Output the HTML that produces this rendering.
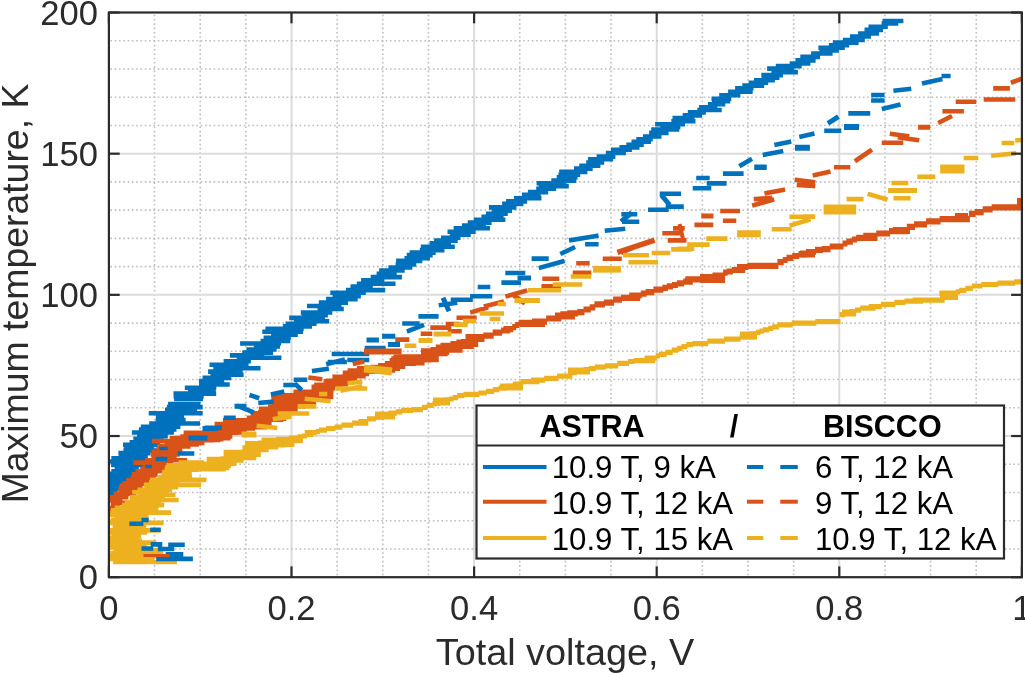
<!DOCTYPE html>
<html><head><meta charset="utf-8"><title>chart</title>
<style>html,body{margin:0;padding:0;background:#fff;width:1025px;height:673px;overflow:hidden;}svg{display:block;will-change:transform;}</style>
</head><body>
<svg width="1025" height="673" viewBox="0 0 1025 673"><line x1="154.55" y1="12.50" x2="154.55" y2="577.20" stroke="#bdbdbd" stroke-width="1.6" stroke-dasharray="1.6 2.7" stroke-dashoffset="-2.2"/>
<line x1="200.20" y1="12.50" x2="200.20" y2="577.20" stroke="#bdbdbd" stroke-width="1.6" stroke-dasharray="1.6 2.7" stroke-dashoffset="-2.2"/>
<line x1="245.85" y1="12.50" x2="245.85" y2="577.20" stroke="#bdbdbd" stroke-width="1.6" stroke-dasharray="1.6 2.7" stroke-dashoffset="-2.2"/>
<line x1="291.50" y1="12.50" x2="291.50" y2="577.20" stroke="#dcdcdc" stroke-width="2"/>
<line x1="337.15" y1="12.50" x2="337.15" y2="577.20" stroke="#bdbdbd" stroke-width="1.6" stroke-dasharray="1.6 2.7" stroke-dashoffset="-2.2"/>
<line x1="382.80" y1="12.50" x2="382.80" y2="577.20" stroke="#bdbdbd" stroke-width="1.6" stroke-dasharray="1.6 2.7" stroke-dashoffset="-2.2"/>
<line x1="428.45" y1="12.50" x2="428.45" y2="577.20" stroke="#bdbdbd" stroke-width="1.6" stroke-dasharray="1.6 2.7" stroke-dashoffset="-2.2"/>
<line x1="474.10" y1="12.50" x2="474.10" y2="577.20" stroke="#dcdcdc" stroke-width="2"/>
<line x1="519.75" y1="12.50" x2="519.75" y2="577.20" stroke="#bdbdbd" stroke-width="1.6" stroke-dasharray="1.6 2.7" stroke-dashoffset="-2.2"/>
<line x1="565.40" y1="12.50" x2="565.40" y2="577.20" stroke="#bdbdbd" stroke-width="1.6" stroke-dasharray="1.6 2.7" stroke-dashoffset="-2.2"/>
<line x1="611.05" y1="12.50" x2="611.05" y2="577.20" stroke="#bdbdbd" stroke-width="1.6" stroke-dasharray="1.6 2.7" stroke-dashoffset="-2.2"/>
<line x1="656.70" y1="12.50" x2="656.70" y2="577.20" stroke="#dcdcdc" stroke-width="2"/>
<line x1="702.35" y1="12.50" x2="702.35" y2="577.20" stroke="#bdbdbd" stroke-width="1.6" stroke-dasharray="1.6 2.7" stroke-dashoffset="-2.2"/>
<line x1="748.00" y1="12.50" x2="748.00" y2="577.20" stroke="#bdbdbd" stroke-width="1.6" stroke-dasharray="1.6 2.7" stroke-dashoffset="-2.2"/>
<line x1="793.65" y1="12.50" x2="793.65" y2="577.20" stroke="#bdbdbd" stroke-width="1.6" stroke-dasharray="1.6 2.7" stroke-dashoffset="-2.2"/>
<line x1="839.30" y1="12.50" x2="839.30" y2="577.20" stroke="#dcdcdc" stroke-width="2"/>
<line x1="884.95" y1="12.50" x2="884.95" y2="577.20" stroke="#bdbdbd" stroke-width="1.6" stroke-dasharray="1.6 2.7" stroke-dashoffset="-2.2"/>
<line x1="930.60" y1="12.50" x2="930.60" y2="577.20" stroke="#bdbdbd" stroke-width="1.6" stroke-dasharray="1.6 2.7" stroke-dashoffset="-2.2"/>
<line x1="976.25" y1="12.50" x2="976.25" y2="577.20" stroke="#bdbdbd" stroke-width="1.6" stroke-dasharray="1.6 2.7" stroke-dashoffset="-2.2"/>
<line x1="108.90" y1="548.97" x2="1021.90" y2="548.97" stroke="#bdbdbd" stroke-width="1.6" stroke-dasharray="1.6 2.7" stroke-dashoffset="-1.5"/>
<line x1="108.90" y1="520.73" x2="1021.90" y2="520.73" stroke="#bdbdbd" stroke-width="1.6" stroke-dasharray="1.6 2.7" stroke-dashoffset="-1.5"/>
<line x1="108.90" y1="492.50" x2="1021.90" y2="492.50" stroke="#bdbdbd" stroke-width="1.6" stroke-dasharray="1.6 2.7" stroke-dashoffset="-1.5"/>
<line x1="108.90" y1="464.26" x2="1021.90" y2="464.26" stroke="#bdbdbd" stroke-width="1.6" stroke-dasharray="1.6 2.7" stroke-dashoffset="-1.5"/>
<line x1="108.90" y1="436.03" x2="1021.90" y2="436.03" stroke="#dcdcdc" stroke-width="2"/>
<line x1="108.90" y1="407.79" x2="1021.90" y2="407.79" stroke="#bdbdbd" stroke-width="1.6" stroke-dasharray="1.6 2.7" stroke-dashoffset="-1.5"/>
<line x1="108.90" y1="379.56" x2="1021.90" y2="379.56" stroke="#bdbdbd" stroke-width="1.6" stroke-dasharray="1.6 2.7" stroke-dashoffset="-1.5"/>
<line x1="108.90" y1="351.32" x2="1021.90" y2="351.32" stroke="#bdbdbd" stroke-width="1.6" stroke-dasharray="1.6 2.7" stroke-dashoffset="-1.5"/>
<line x1="108.90" y1="323.09" x2="1021.90" y2="323.09" stroke="#bdbdbd" stroke-width="1.6" stroke-dasharray="1.6 2.7" stroke-dashoffset="-1.5"/>
<line x1="108.90" y1="294.85" x2="1021.90" y2="294.85" stroke="#dcdcdc" stroke-width="2"/>
<line x1="108.90" y1="266.62" x2="1021.90" y2="266.62" stroke="#bdbdbd" stroke-width="1.6" stroke-dasharray="1.6 2.7" stroke-dashoffset="-1.5"/>
<line x1="108.90" y1="238.38" x2="1021.90" y2="238.38" stroke="#bdbdbd" stroke-width="1.6" stroke-dasharray="1.6 2.7" stroke-dashoffset="-1.5"/>
<line x1="108.90" y1="210.15" x2="1021.90" y2="210.15" stroke="#bdbdbd" stroke-width="1.6" stroke-dasharray="1.6 2.7" stroke-dashoffset="-1.5"/>
<line x1="108.90" y1="181.91" x2="1021.90" y2="181.91" stroke="#bdbdbd" stroke-width="1.6" stroke-dasharray="1.6 2.7" stroke-dashoffset="-1.5"/>
<line x1="108.90" y1="153.68" x2="1021.90" y2="153.68" stroke="#dcdcdc" stroke-width="2"/>
<line x1="108.90" y1="125.44" x2="1021.90" y2="125.44" stroke="#bdbdbd" stroke-width="1.6" stroke-dasharray="1.6 2.7" stroke-dashoffset="-1.5"/>
<line x1="108.90" y1="97.20" x2="1021.90" y2="97.20" stroke="#bdbdbd" stroke-width="1.6" stroke-dasharray="1.6 2.7" stroke-dashoffset="-1.5"/>
<line x1="108.90" y1="68.97" x2="1021.90" y2="68.97" stroke="#bdbdbd" stroke-width="1.6" stroke-dasharray="1.6 2.7" stroke-dashoffset="-1.5"/>
<line x1="108.90" y1="40.74" x2="1021.90" y2="40.74" stroke="#bdbdbd" stroke-width="1.6" stroke-dasharray="1.6 2.7" stroke-dashoffset="-1.5"/>
<defs><clipPath id="ax"><rect x="110" y="13" width="911" height="562.5"/></clipPath></defs><g clip-path="url(#ax)">
<path fill="#0072BD" d="M174.1 396.7h28.9v4.6h-28.9zM173.6 394.2h30.1v4.6h-30.1zM173.5 391.3h42.7v4.6h-42.7zM187.9 388.2h27.8v4.6h-27.8zM184.8 385.5h31.5v4.6h-31.5zM199.0 382.2h30.7v4.6h-30.7zM198.9 378.8h25.4v4.6h-25.4zM202.5 375.6h28.8v4.6h-28.8zM210.4 372.5h33.2v4.6h-33.2zM208.1 369.3h34.6v4.6h-34.6zM213.3 366.0h47.2v4.6h-47.2zM209.5 362.5h39.1v4.6h-39.1zM223.6 359.0h27.3v4.6h-27.3zM236.8 355.5h44.6v4.6h-44.6zM229.9 353.1h34.6v4.6h-34.6zM242.2 350.3h30.9v4.6h-30.9zM246.4 347.2h30.2v4.6h-30.2zM253.8 344.2h26.2v4.6h-26.2zM240.1 341.2h41.0v4.6h-41.0zM260.5 338.7h29.7v4.6h-29.7zM263.6 335.4h27.2v4.6h-27.2zM271.1 332.5h26.7v4.6h-26.7zM262.3 329.4h40.8v4.6h-40.8zM265.4 326.6h38.3v4.6h-38.3zM282.9 324.1h29.1v4.6h-29.1zM285.5 321.5h31.1v4.6h-31.1zM293.9 318.9h35.3v4.6h-35.3zM289.2 315.6h35.9v4.6h-35.9zM301.7 312.8h26.2v4.6h-26.2zM300.8 310.2h31.5v4.6h-31.5zM317.5 306.7h26.3v4.6h-26.3zM307.0 303.7h34.5v4.6h-34.5zM318.8 300.3h29.2v4.6h-29.2zM326.1 296.8h31.6v4.6h-31.6zM332.6 293.8h28.3v4.6h-28.3zM330.3 290.4h35.5v4.6h-35.5zM345.9 287.8h39.3v4.6h-39.3zM350.5 284.3h22.3v4.6h-22.3zM356.8 281.4h38.7v4.6h-38.7zM361.1 277.9h23.3v4.6h-23.3zM370.7 274.8h31.2v4.6h-31.2zM376.6 271.5h20.1v4.6h-20.1zM379.1 268.2h25.6v4.6h-25.6zM388.4 265.2h23.9v4.6h-23.9zM395.6 262.1h20.7v4.6h-20.7zM396.1 258.6h26.2v4.6h-26.2zM404.5 256.0h25.4v4.6h-25.4zM406.7 252.8h26.0v4.6h-26.0zM409.6 250.3h26.1v4.6h-26.1zM419.8 247.8h24.7v4.6h-24.7zM420.8 244.4h34.0v4.6h-34.0zM429.5 240.9h21.5v4.6h-21.5zM434.1 238.3h23.6v4.6h-23.6zM441.0 235.4h19.5v4.6h-19.5zM449.8 232.5h20.9v4.6h-20.9zM447.5 229.5h28.2v4.6h-28.2zM453.6 226.0h36.4v4.6h-36.4zM461.9 223.2h24.0v4.6h-24.0zM467.7 220.3h23.9v4.6h-23.9zM473.9 217.4h31.5v4.6h-31.5zM481.4 214.5h22.2v4.6h-22.2zM485.9 211.5h21.9v4.6h-21.9zM491.6 208.5h20.5v4.6h-20.5zM488.9 205.1h27.6v4.6h-27.6zM502.1 201.6h21.3v4.6h-21.3zM506.1 199.1h21.0v4.6h-21.0zM513.9 195.9h27.6v4.6h-27.6zM521.9 192.4h18.9v4.6h-18.9zM527.9 189.8h20.3v4.6h-20.3zM536.2 186.5h20.0v4.6h-20.0zM538.7 183.8h30.1v4.6h-30.1zM536.6 181.0h29.7v4.6h-29.7zM551.3 178.3h25.0v4.6h-25.0zM556.7 175.1h20.8v4.6h-20.8zM558.4 172.5h21.8v4.6h-21.8zM559.2 169.6h28.2v4.6h-28.2zM574.0 166.3h18.7v4.6h-18.7zM579.2 163.5h21.2v4.6h-21.2zM586.2 160.2h18.0v4.6h-18.0zM588.0 156.9h25.2v4.6h-25.2zM596.6 154.3h18.8v4.6h-18.8zM605.8 150.7h20.1v4.6h-20.1zM611.0 147.5h20.9v4.6h-20.9zM619.4 145.1h20.1v4.6h-20.1zM626.3 142.5h17.5v4.6h-17.5zM631.5 139.4h19.5v4.6h-19.5zM636.3 136.9h16.5v4.6h-16.5zM642.9 134.2h18.6v4.6h-18.6zM649.1 130.6h19.5v4.6h-19.5zM651.2 127.2h28.1v4.6h-28.1zM660.3 124.6h20.1v4.6h-20.1zM655.1 121.9h29.9v4.6h-29.9zM671.3 119.0h24.2v4.6h-24.2zM672.5 115.7h22.0v4.6h-22.0zM682.7 113.1h19.4v4.6h-19.4zM687.8 110.1h18.1v4.6h-18.1zM697.3 107.7h24.4v4.6h-24.4zM699.1 104.9h18.3v4.6h-18.3zM707.9 101.9h17.4v4.6h-17.4zM711.9 98.8h18.4v4.6h-18.4zM711.5 96.4h19.8v4.6h-19.8zM719.2 92.9h21.2v4.6h-21.2zM728.1 89.4h24.6v4.6h-24.6zM735.1 85.9h18.4v4.6h-18.4zM742.3 83.3h21.9v4.6h-21.9zM748.6 80.5h19.6v4.6h-19.6zM754.0 77.9h20.9v4.6h-20.9zM761.8 75.3h17.6v4.6h-17.6zM761.3 72.8h21.7v4.6h-21.7zM771.4 69.8h26.5v4.6h-26.5zM767.1 66.3h27.0v4.6h-27.0zM775.8 63.8h25.9v4.6h-25.9zM789.7 61.2h20.7v4.6h-20.7zM795.4 58.1h20.2v4.6h-20.2zM800.3 54.6h19.8v4.6h-19.8zM811.1 51.2h21.5v4.6h-21.5zM819.4 48.1h19.5v4.6h-19.5zM818.4 45.4h26.4v4.6h-26.4zM828.9 42.9h20.3v4.6h-20.3zM832.8 40.3h25.8v4.6h-25.8zM842.8 37.7h22.0v4.6h-22.0zM850.0 34.2h20.9v4.6h-20.9zM858.1 31.2h21.0v4.6h-21.0zM864.5 27.6h18.5v4.6h-18.5zM868.5 24.5h19.3v4.6h-19.3zM881.6 21.2h16.7v4.6h-16.7zM882.5 18.7h20.9v4.6h-20.9z"/>
<path fill="#0072BD" d="M109.0 495.7h5.1v4.6h-5.1zM109.0 492.2h6.3v4.6h-6.3zM109.0 489.6h8.6v4.6h-8.6zM109.0 486.2h10.9v4.6h-10.9zM109.0 482.8h19.0v4.6h-19.0zM109.0 480.3h18.4v4.6h-18.4zM109.0 477.2h21.6v4.6h-21.6zM109.0 474.3h32.4v4.6h-32.4zM109.1 471.5h33.3v4.6h-33.3zM111.3 468.9h25.8v4.6h-25.8zM114.6 465.8h24.2v4.6h-24.2zM111.1 462.7h39.1v4.6h-39.1zM109.0 459.2h40.9v4.6h-40.9zM111.3 455.9h36.1v4.6h-36.1zM118.9 453.2h29.0v4.6h-29.0zM118.4 450.8h32.0v4.6h-32.0zM123.4 448.3h36.6v4.6h-36.6zM124.2 445.1h29.7v4.6h-29.7zM123.0 442.6h34.8v4.6h-34.8zM129.6 439.9h30.3v4.6h-30.3zM133.3 436.5h30.4v4.6h-30.4zM137.1 433.8h30.7v4.6h-30.7zM131.9 430.2h42.0v4.6h-42.0zM138.9 427.2h37.6v4.6h-37.6zM140.8 424.4h39.6v4.6h-39.6zM149.2 421.2h50.8v4.6h-50.8zM155.6 417.7h30.0v4.6h-30.0zM155.9 414.5h28.2v4.6h-28.2zM148.7 410.9h54.0v4.6h-54.0zM165.0 407.6h32.1v4.6h-32.1zM166.8 404.8h35.9v4.6h-35.9zM168.1 401.7h32.4v4.6h-32.4z"/>
<path fill="#D95319" d="M109.0 508.7h4.2v4.6h-4.2zM109.6 505.4h6.4v4.6h-6.4zM111.0 503.1h9.3v4.6h-9.3zM110.7 500.5h16.5v4.6h-16.5zM109.0 498.1h13.4v4.6h-13.4zM109.1 494.9h19.3v4.6h-19.3zM113.8 491.6h22.5v4.6h-22.5zM118.6 489.2h30.1v4.6h-30.1zM118.5 486.6h22.9v4.6h-22.9zM119.3 483.5h23.4v4.6h-23.4zM122.4 481.3h29.1v4.6h-29.1zM126.2 478.0h29.4v4.6h-29.4zM130.7 475.3h25.0v4.6h-25.0zM131.9 472.1h25.8v4.6h-25.8zM135.5 468.9h28.6v4.6h-28.6zM140.2 466.4h30.4v4.6h-30.4zM142.9 463.1h24.6v4.6h-24.6zM133.6 460.3h39.6v4.6h-39.6zM145.2 457.9h42.0v4.6h-42.0zM151.4 455.5h25.2v4.6h-25.2zM150.6 452.2h29.1v4.6h-29.1zM151.4 449.5h31.0v4.6h-31.0zM156.5 446.7h25.5v4.6h-25.5zM158.1 444.1h32.4v4.6h-32.4zM164.6 441.4h28.0v4.6h-28.0zM151.9 438.8h46.3v4.6h-46.3zM169.7 435.9h31.7v4.6h-31.7z"/>
<path fill="#D95319" d="M175.1 435.8h23.8v11.0h-23.8zM180.2 434.3h24.3v11.0h-24.3zM184.5 431.0h25.7v11.0h-25.7zM192.5 431.5h21.4v11.0h-21.4zM194.4 431.2h26.0v11.0h-26.0zM183.6 430.6h37.5v11.0h-37.5zM203.1 430.5h20.4v11.0h-20.4zM206.1 429.6h24.5v11.0h-24.5zM211.4 427.7h20.9v11.0h-20.9zM218.5 424.0h19.5v11.0h-19.5zM214.6 421.7h30.4v11.0h-30.4zM227.2 423.7h19.5v11.0h-19.5zM229.8 419.8h25.3v11.0h-25.3zM222.9 417.9h39.9v11.0h-39.9zM242.3 418.4h25.0v11.0h-25.0zM246.8 415.5h24.8v11.0h-24.8zM250.6 411.1h32.7v11.0h-32.7zM258.1 410.0h28.1v11.0h-28.1zM258.8 406.4h22.5v11.0h-22.5zM268.1 404.3h21.1v11.0h-21.1zM271.8 401.7h23.9v11.0h-23.9zM274.3 402.0h23.4v11.0h-23.4zM280.9 397.6h24.7v11.0h-24.7zM285.4 394.0h27.0v11.0h-27.0zM271.3 393.0h44.8v11.0h-44.8zM294.8 390.9h26.3v11.0h-26.3z"/>
<path fill="#D95319" d="M300.3 391.0h33.1v8.0h-33.1zM293.4 389.5h31.4v8.0h-31.4zM311.5 384.5h22.1v8.0h-22.1zM314.2 382.5h21.1v8.0h-21.1zM323.5 379.1h19.0v8.0h-19.0zM325.9 378.6h22.0v8.0h-22.0zM332.4 374.5h22.4v8.0h-22.4zM336.5 374.4h20.6v8.0h-20.6zM342.7 370.6h23.0v8.0h-23.0zM347.6 368.3h21.6v8.0h-21.6zM356.8 365.9h18.7v8.0h-18.7zM361.9 366.1h22.7v8.0h-22.7zM370.3 364.7h24.9v8.0h-24.9zM378.1 363.1h21.9v8.0h-21.9zM384.8 361.0h20.5v8.0h-20.5zM389.6 358.1h26.3v8.0h-26.3zM391.3 356.3h20.8v8.0h-20.8zM397.8 357.4h26.8v8.0h-26.8zM393.5 354.4h37.6v8.0h-37.6zM398.4 354.2h32.1v8.0h-32.1zM415.4 354.2h23.4v8.0h-23.4zM421.0 348.3h26.6v8.0h-26.6zM430.5 347.1h18.7v8.0h-18.7zM435.8 344.4h18.3v8.0h-18.3zM440.5 342.7h17.5v8.0h-17.5zM442.5 344.8h20.1v8.0h-20.1zM450.4 341.0h23.4v8.0h-23.4zM456.4 339.4h17.2v8.0h-17.2zM461.2 338.9h17.0v8.0h-17.0zM465.5 333.9h18.8v8.0h-18.8z"/>
<path fill="#D95319" d="M474.5 335.6h9.8v6.2h-9.8zM483.3 332.6h10.4v6.2h-10.4zM492.7 329.5h9.4v6.2h-9.4zM501.1 327.4h9.1v6.2h-9.1zM503.5 326.1h9.7v6.2h-9.7zM512.2 324.0h4.1v6.2h-4.1zM515.2 321.9h4.4v6.2h-4.4zM518.6 319.7h14.4v6.2h-14.4zM532.0 318.5h15.1v6.2h-15.1zM546.1 315.4h15.2v6.2h-15.2zM560.3 311.3h8.1v6.2h-8.1zM567.3 310.3h10.9v6.2h-10.9zM577.2 309.0h7.3v6.2h-7.3zM583.5 306.4h7.3v6.2h-7.3zM589.7 304.3h5.6v6.2h-5.6zM594.4 301.3h10.5v6.2h-10.5zM603.8 299.6h10.2v6.2h-10.2zM613.1 296.6h8.9v6.2h-8.9zM621.0 294.8h19.1v6.2h-19.1zM629.2 292.4h12.5v6.2h-12.5zM640.8 290.6h5.8v6.2h-5.8zM645.6 289.0h8.7v6.2h-8.7zM653.4 286.5h10.0v6.2h-10.0zM662.4 284.7h5.5v6.2h-5.5zM666.9 283.2h6.1v6.2h-6.1zM672.0 281.9h5.9v6.2h-5.9zM676.9 280.2h7.2v6.2h-7.2zM683.2 278.6h9.6v6.2h-9.6zM685.3 276.3h17.5v6.2h-17.5zM701.8 274.2h11.7v6.2h-11.7zM712.5 272.5h11.5v6.2h-11.5zM723.1 269.5h4.6v6.2h-4.6zM726.7 268.4h6.2v6.2h-6.2zM731.8 266.9h13.4v6.2h-13.4zM736.9 263.9h11.3v6.2h-11.3zM747.2 262.8h31.2v6.2h-31.2zM777.4 259.0h6.4v6.2h-6.4zM782.8 256.9h4.8v6.2h-4.8zM786.5 254.8h6.7v6.2h-6.7zM792.2 252.9h7.2v6.2h-7.2zM798.5 251.1h8.6v6.2h-8.6zM806.0 248.9h9.9v6.2h-9.9zM815.0 246.8h8.0v6.2h-8.0zM821.9 246.0h8.7v6.2h-8.7zM829.7 243.4h13.8v6.2h-13.8zM842.5 240.4h5.0v6.2h-5.0zM846.4 238.5h6.5v6.2h-6.5zM851.9 236.4h5.3v6.2h-5.3zM856.2 234.8h21.3v6.2h-21.3zM863.3 232.7h13.9v6.2h-13.9zM876.2 230.4h13.8v6.2h-13.8zM889.0 228.0h18.7v6.2h-18.7zM906.8 223.8h8.2v6.2h-8.2zM914.0 221.3h13.1v6.2h-13.1zM926.1 218.3h14.5v6.2h-14.5zM939.6 216.1h30.3v6.2h-30.3zM968.9 210.8h6.7v6.2h-6.7zM974.6 209.1h9.1v6.2h-9.1zM982.7 206.2h9.9v6.2h-9.9zM991.6 204.3h29.9v6.2h-29.9z"/>
<path fill="#EDB120" d="M113.2 559.7h63.8v4.6h-63.8zM109.7 556.7h44.7v4.6h-44.7zM109.9 553.9h60.4v4.6h-60.4zM110.2 550.8h53.0v4.6h-53.0zM113.4 548.1h44.2v4.6h-44.2zM109.0 545.1h37.9v4.6h-37.9zM110.7 542.5h33.9v4.6h-33.9zM109.5 540.3h46.8v4.6h-46.8zM110.5 538.2h31.4v4.6h-31.4zM110.0 535.5h28.4v4.6h-28.4zM111.3 533.4h29.8v4.6h-29.8zM109.1 530.2h38.1v4.6h-38.1zM110.1 528.1h50.6v4.6h-50.6zM112.6 525.1h33.4v4.6h-33.4zM114.2 523.0h32.1v4.6h-32.1zM109.5 520.6h54.2v4.6h-54.2zM110.4 517.7h32.0v4.6h-32.0zM114.6 515.4h33.9v4.6h-33.9zM109.0 512.6h39.5v4.6h-39.5zM110.2 510.3h61.0v4.6h-61.0zM110.9 507.9h45.6v4.6h-45.6zM114.7 505.6h43.7v4.6h-43.7zM122.0 502.8h42.2v4.6h-42.2zM124.8 499.9h36.1v4.6h-36.1zM129.7 497.7h49.0v4.6h-49.0zM129.9 495.1h35.2v4.6h-35.2zM137.5 492.5h38.0v4.6h-38.0zM132.2 489.9h36.7v4.6h-36.7zM137.4 487.5h34.7v4.6h-34.7zM145.3 484.9h32.9v4.6h-32.9zM143.8 482.6h57.2v4.6h-57.2zM149.0 479.8h30.5v4.6h-30.5zM150.0 477.6h56.5v4.6h-56.5zM158.1 475.1h33.9v4.6h-33.9zM161.5 472.0h30.3v4.6h-30.3zM162.1 469.8h28.7v4.6h-28.7zM164.5 467.3h34.1v4.6h-34.1zM165.3 465.0h32.1v4.6h-32.1zM166.5 462.9h32.2v4.6h-32.2zM178.5 460.2h25.5v4.6h-25.5z"/>
<path fill="#EDB120" d="M186.9 465.1h38.8v6.5h-38.8zM192.0 461.7h39.1v6.5h-39.1zM195.2 463.8h34.1v6.5h-34.1zM203.0 461.4h22.8v6.5h-22.8zM209.8 459.4h26.7v6.5h-26.7zM213.1 459.3h21.9v6.5h-21.9zM206.7 456.7h28.9v6.5h-28.9zM220.2 456.2h23.4v6.5h-23.4zM225.5 453.8h30.8v6.5h-30.8zM226.7 453.6h24.0v6.5h-24.0zM223.6 449.8h29.4v6.5h-29.4zM237.2 450.4h23.6v6.5h-23.6zM242.4 445.2h22.1v6.5h-22.1zM246.7 445.8h21.9v6.5h-21.9zM252.5 443.0h25.8v6.5h-25.8zM258.0 440.4h22.0v6.5h-22.0zM244.9 441.0h40.2v6.5h-40.2zM261.5 437.4h28.7v6.5h-28.7zM272.4 440.4h22.0v6.5h-22.0zM276.2 436.8h26.7v6.5h-26.7z"/>
<path fill="#EDB120" d="M270.9 440.4h7.5v5.2h-7.5zM277.4 438.8h7.6v5.2h-7.6zM284.0 437.4h6.0v5.2h-6.0zM289.0 435.4h9.5v5.2h-9.5zM297.5 434.3h5.4v5.2h-5.4zM301.9 433.4h5.1v5.2h-5.1zM306.0 431.7h7.4v5.2h-7.4zM304.8 430.1h11.8v5.2h-11.8zM315.6 429.1h4.3v5.2h-4.3zM318.9 427.5h8.1v5.2h-8.1zM326.0 425.9h9.5v5.2h-9.5zM334.5 424.6h7.9v5.2h-7.9zM341.4 422.6h11.8v5.2h-11.8zM352.1 420.6h16.3v5.2h-16.3zM358.5 418.9h9.5v5.2h-9.5zM367.0 416.3h8.9v5.2h-8.9zM374.9 414.5h9.3v5.2h-9.3zM383.2 412.2h6.4v5.2h-6.4zM388.6 410.6h8.3v5.2h-8.3zM395.9 409.3h6.4v5.2h-6.4zM401.2 407.8h11.8v5.2h-11.8zM412.0 407.1h11.0v5.2h-11.0zM421.9 404.8h5.9v5.2h-5.9zM426.8 402.7h6.6v5.2h-6.6zM432.4 401.3h4.1v5.2h-4.1zM435.6 400.5h4.8v5.2h-4.8zM439.3 399.1h5.6v5.2h-5.6zM443.9 397.6h6.1v5.2h-6.1zM449.0 396.4h4.7v5.2h-4.7zM452.7 395.0h5.4v5.2h-5.4zM457.2 393.0h7.2v5.2h-7.2zM463.3 391.8h16.0v5.2h-16.0zM478.3 390.4h8.6v5.2h-8.6zM485.9 388.8h8.2v5.2h-8.2zM493.1 387.0h6.3v5.2h-6.3zM498.4 385.4h8.6v5.2h-8.6zM506.0 383.8h7.7v5.2h-7.7zM512.8 381.6h8.8v5.2h-8.8zM520.5 379.1h19.0v5.2h-19.0zM531.0 377.5h14.2v5.2h-14.2zM544.1 375.7h14.0v5.2h-14.0zM557.1 373.6h15.3v5.2h-15.3zM571.4 370.1h5.5v5.2h-5.5zM575.9 368.8h8.6v5.2h-8.6zM583.5 367.1h6.5v5.2h-6.5zM589.0 366.0h6.8v5.2h-6.8zM594.8 364.6h10.9v5.2h-10.9zM604.7 363.2h13.5v5.2h-13.5zM617.2 360.8h11.9v5.2h-11.9zM628.0 358.9h6.6v5.2h-6.6zM633.6 358.1h21.6v5.2h-21.6zM644.6 355.5h12.2v5.2h-12.2zM655.8 353.3h4.1v5.2h-4.1zM658.9 351.8h7.6v5.2h-7.6zM665.5 349.7h7.2v5.2h-7.2zM671.7 347.6h6.4v5.2h-6.4zM677.1 345.8h5.3v5.2h-5.3zM681.5 344.0h6.0v5.2h-6.0zM686.4 342.0h6.9v5.2h-6.9zM692.3 341.0h16.0v5.2h-16.0zM707.3 338.6h17.7v5.2h-17.7zM724.0 336.5h16.6v5.2h-16.6zM739.6 334.3h15.0v5.2h-15.0zM744.0 333.0h5.9v5.2h-5.9zM748.9 331.6h7.9v5.2h-7.9zM755.8 329.7h4.6v5.2h-4.6zM759.4 328.5h4.5v5.2h-4.5zM762.9 327.2h6.3v5.2h-6.3zM768.2 325.7h5.0v5.2h-5.0zM772.2 324.2h6.7v5.2h-6.7zM777.9 322.3h14.9v5.2h-14.9zM791.8 320.5h24.6v5.2h-24.6zM815.4 319.1h25.1v5.2h-25.1zM839.5 312.1h5.5v5.2h-5.5zM844.0 310.1h6.3v5.2h-6.3zM849.3 308.9h6.7v5.2h-6.7zM855.0 307.6h6.2v5.2h-6.2zM860.2 305.5h15.4v5.2h-15.4zM868.7 304.1h13.2v5.2h-13.2zM880.9 301.7h14.5v5.2h-14.5zM894.4 299.8h11.1v5.2h-11.1zM904.5 298.5h18.5v5.2h-18.5zM912.6 297.6h32.1v5.2h-32.1zM943.8 293.1h8.2v5.2h-8.2zM939.3 290.6h17.3v5.2h-17.3zM955.7 289.2h4.5v5.2h-4.5zM959.2 287.8h7.2v5.2h-7.2zM965.4 285.7h7.5v5.2h-7.5zM972.0 283.4h10.3v5.2h-10.3zM981.3 281.9h17.1v5.2h-17.1zM997.4 280.6h17.9v5.2h-17.9zM1014.3 279.2h7.2v5.2h-7.2z"/>
<path fill="#D95319" d="M700.0 274.0h25.0v9.0h-25.0zM893.0 227.0h17.0v7.0h-17.0zM955.0 213.0h13.0v8.0h-13.0zM1017.0 198.0h5.0v10.0h-5.0zM555.0 312.5h20.0v7.0h-20.0zM520.0 320.0h25.0v7.0h-25.0zM800.0 250.5h15.0v7.0h-15.0z"/>
<path fill="#EDB120" d="M740.0 331.5h17.0v8.0h-17.0zM940.0 291.0h18.0v9.0h-18.0zM375.0 411.5h20.0v8.0h-20.0zM433.0 397.5h17.0v8.0h-17.0zM500.0 383.5h23.0v7.0h-23.0zM568.0 367.5h22.0v7.0h-22.0zM842.0 309.5h14.0v7.0h-14.0z"/>
<path d="M131.7 523.7L141.0 523.7M143.8 520.0L146.4 520.0M152.5 529.7L158.5 529.7M153.0 544.4L160.0 544.4M170.5 544.8L182.5 544.8M143.8 548.5L151.0 548.5M160.0 549.0L172.0 549.0M168.0 554.4L181.0 554.4M158.5 558.9L190.6 558.9M180.0 453.5L192.0 453.5M226.0 417.8L233.4 417.8M207.0 427.8L219.6 427.8M239.0 406.4L251.7 411.7M251.7 395.7L257.0 397.5M260.6 402.8L271.4 401.9M273.1 393.9L282.0 392.0M285.6 385.0L294.5 385.0M296.0 379.7L305.0 379.7M296.3 385.0L300.0 388.5M314.2 370.7L326.6 369.0M328.4 363.6L342.7 360.0M334.0 354.0L367.0 354.0M330.0 362.0L344.6 362.0M349.5 360.0L367.0 360.0M367.0 348.0L383.4 348.0M404.5 323.5L417.4 323.5M409.0 330.7L422.0 325.7M420.7 316.4L436.3 316.4M441.0 305.0L455.0 303.0M453.0 299.8L470.5 299.8M472.4 296.3L490.0 296.3M480.0 287.0L488.0 287.0M503.7 282.6L518.7 282.6M507.6 273.0L523.0 273.0M533.9 258.6L546.4 258.6M541.0 267.5L562.4 261.5M562.4 253.0L573.0 248.0M571.3 240.0L596.3 236.0M587.4 244.3L596.3 244.3M607.0 230.5L623.0 229.0M623.6 214.2L635.0 214.2M624.5 221.7L637.0 221.7M650.3 209.7L666.4 209.7M662.0 193.7L678.8 193.7M668.0 206.6L681.5 206.6M695.0 188.3L709.0 188.3M698.5 178.0L707.4 178.0M709.0 183.4L724.3 183.4M725.2 173.6L741.3 173.6M741.3 165.0L750.0 160.0M765.0 154.5L781.0 151.5M776.6 144.5L789.0 142.0M801.5 136.5L812.2 134.0M826.5 130.8L839.0 130.8M850.6 113.4L867.5 113.4M860.0 113.5L868.0 113.5M873.4 100.5L882.3 100.5M884.0 108.5L898.3 105.0M895.7 90.5L909.0 89.0M924.2 83.0L940.2 79.5M943.8 76.0L948.3 76.0" fill="none" stroke="#0072BD" stroke-width="4.6" stroke-linecap="square"/>
<path d="M147.0 466.5L150.0 466.5M161.0 448.5L166.0 448.5" fill="none" stroke="#0072BD" stroke-width="3.5" stroke-linecap="square"/>
<path d="M158.0 459.0L165.0 459.0M873.4 95.0L882.3 95.0" fill="none" stroke="#0072BD" stroke-width="4.5" stroke-linecap="square"/>
<path d="M191.0 438.0L205.0 438.0M205.0 428.5L215.6 428.5M237.0 406.3L244.0 406.3M369.0 339.9L376.4 339.9M384.6 336.3L392.8 336.3M390.4 344.6L397.5 344.6M444.0 300.0L448.0 309.0M520.0 278.0L528.5 278.0M623.0 220.0L630.0 214.0M663.0 197.0L668.0 203.0M830.0 122.0L836.3 118.0" fill="none" stroke="#0072BD" stroke-width="5" stroke-linecap="square"/>
<path d="M757.0 167.3L764.0 167.3" fill="none" stroke="#0072BD" stroke-width="5.5" stroke-linecap="square"/>
<path d="M798.0 147.7L806.9 147.7M847.0 127.0L856.0 127.0" fill="none" stroke="#0072BD" stroke-width="6" stroke-linecap="square"/>
<path d="M145.0 555.5L168.0 555.5" fill="none" stroke="#D95319" stroke-width="3" stroke-linecap="square"/>
<path d="M310.6 377.8L320.0 379.0M355.0 363.6L362.0 362.0M397.5 339.6L407.0 339.6M423.0 333.7L430.0 333.7M432.6 327.6L449.0 327.6M448.0 324.0L458.0 324.0M450.0 331.2L459.5 331.2M458.8 317.8L474.4 317.8M472.4 312.0L486.0 308.0M486.0 306.0L501.7 302.0M507.6 296.0L525.0 291.0M544.6 278.8L557.0 278.8M543.7 286.3L558.8 286.3M575.0 272.9L589.0 272.9M578.5 263.2L587.4 263.2M596.3 268.5L607.0 268.5M605.0 258.7L619.5 258.7M623.0 252.0L630.0 249.0M664.6 233.3L680.6 233.3M675.3 228.4L682.4 228.4M670.0 240.4L684.2 240.4M696.7 224.9L711.0 224.9M722.5 211.0L737.7 211.0M725.2 220.8L734.0 220.8M754.3 205.0L772.0 200.0M756.0 199.0L770.0 198.0M766.7 193.0L782.8 190.0M797.0 180.0L813.0 182.0M799.0 185.0L813.0 186.0M815.0 175.0L828.3 172.0M836.3 167.3L848.0 167.3M856.8 160.0L870.0 151.0M884.0 142.8L901.0 142.8M892.0 134.0L907.0 136.0M900.0 137.5L917.0 140.0M940.2 122.0L950.0 117.0M944.7 111.2L961.6 111.2M958.0 101.8L974.0 101.8M986.0 99.5L1013.0 99.5M995.5 88.4L1007.6 88.4M1013.0 82.0L1021.0 79.0" fill="none" stroke="#D95319" stroke-width="4.6" stroke-linecap="square"/>
<path d="M367.0 351.5L398.6 351.5" fill="none" stroke="#D95319" stroke-width="6" stroke-linecap="square"/>
<path d="M516.0 297.0L523.0 302.0M703.8 216.0L711.0 216.0M920.6 127.2L927.8 127.2" fill="none" stroke="#D95319" stroke-width="5" stroke-linecap="square"/>
<path d="M620.0 251.6L652.0 241.0" fill="none" stroke="#D95319" stroke-width="5.5" stroke-linecap="square"/>
<path d="M680.0 226.0L683.0 239.0" fill="none" stroke="#D95319" stroke-width="4" stroke-linecap="square"/>
<path d="M244.6 434.5L253.5 434.5" fill="none" stroke="#EDB120" stroke-width="6" stroke-linecap="square"/>
<path d="M258.9 426.0L275.0 427.8M275.0 418.9L289.0 417.0M280.0 413.5L307.0 413.5M300.0 406.4L314.0 406.4M307.0 399.0L328.4 401.0M321.3 394.0L325.0 394.0M337.8 388.5L365.0 388.5M342.7 390.3L360.0 386.8M350.0 383.0L360.0 382.0M406.8 345.7L414.0 345.7M456.0 324.6L465.4 324.6M465.4 321.0L474.0 321.0M482.0 313.5L501.7 313.5M492.0 319.0L498.0 319.0M500.0 304.0L503.6 304.0M530.0 290.3L559.0 290.3M555.0 284.5L580.0 284.5M573.0 276.5L589.0 276.5M625.3 255.2L646.7 255.2M630.7 262.3L655.7 262.3M654.0 253.0L668.0 253.0M673.5 249.4L689.5 249.4M680.0 248.7L692.0 248.7M689.5 244.6L707.3 244.6M708.5 238.6L725.2 238.6M774.0 229.2L789.4 229.2M791.7 225.0L808.4 220.0M806.0 216.5L813.0 216.5M791.7 216.8L813.0 216.8M848.8 199.0L861.3 199.0M850.0 199.2L860.4 199.2M869.8 194.5L885.4 199.0M893.7 183.0L906.0 183.0M895.8 198.2L908.3 198.2M919.7 176.8L933.0 176.8M966.0 158.0L976.0 158.0M993.4 155.5L1014.0 153.5M1004.0 143.0L1012.0 143.0M1017.5 140.3L1021.0 140.0" fill="none" stroke="#EDB120" stroke-width="4.6" stroke-linecap="square"/>
<path d="M368.0 369.0L388.0 371.0" fill="none" stroke="#EDB120" stroke-width="8" stroke-linecap="square"/>
<path d="M421.0 340.5L430.0 340.5M436.0 334.0L449.0 334.0M517.0 300.6L537.4 300.6M890.6 190.4L914.5 190.4" fill="none" stroke="#EDB120" stroke-width="5" stroke-linecap="square"/>
<path d="M596.3 269.4L617.7 269.4" fill="none" stroke="#EDB120" stroke-width="6.5" stroke-linecap="square"/>
<path d="M740.6 233.8L757.3 233.8" fill="none" stroke="#EDB120" stroke-width="7" stroke-linecap="square"/>
<path d="M828.6 209.5L851.2 209.5" fill="none" stroke="#EDB120" stroke-width="10" stroke-linecap="square"/>
<path d="M944.7 169.0L960.0 169.0" fill="none" stroke="#EDB120" stroke-width="9" stroke-linecap="square"/>
</g>
<rect x="108.90" y="12.50" width="913.00" height="564.70" fill="none" stroke="#2b2b2b" stroke-width="2.2"/>
<line x1="108.90" y1="577.20" x2="108.90" y2="566.40" stroke="#2b2b2b" stroke-width="2.2"/>
<line x1="108.90" y1="12.50" x2="108.90" y2="23.30" stroke="#2b2b2b" stroke-width="2.2"/>
<line x1="291.50" y1="577.20" x2="291.50" y2="566.40" stroke="#2b2b2b" stroke-width="2.2"/>
<line x1="291.50" y1="12.50" x2="291.50" y2="23.30" stroke="#2b2b2b" stroke-width="2.2"/>
<line x1="474.10" y1="577.20" x2="474.10" y2="566.40" stroke="#2b2b2b" stroke-width="2.2"/>
<line x1="474.10" y1="12.50" x2="474.10" y2="23.30" stroke="#2b2b2b" stroke-width="2.2"/>
<line x1="656.70" y1="577.20" x2="656.70" y2="566.40" stroke="#2b2b2b" stroke-width="2.2"/>
<line x1="656.70" y1="12.50" x2="656.70" y2="23.30" stroke="#2b2b2b" stroke-width="2.2"/>
<line x1="839.30" y1="577.20" x2="839.30" y2="566.40" stroke="#2b2b2b" stroke-width="2.2"/>
<line x1="839.30" y1="12.50" x2="839.30" y2="23.30" stroke="#2b2b2b" stroke-width="2.2"/>
<line x1="1021.90" y1="577.20" x2="1021.90" y2="566.40" stroke="#2b2b2b" stroke-width="2.2"/>
<line x1="1021.90" y1="12.50" x2="1021.90" y2="23.30" stroke="#2b2b2b" stroke-width="2.2"/>
<line x1="108.90" y1="577.20" x2="119.70" y2="577.20" stroke="#2b2b2b" stroke-width="2.2"/>
<line x1="1021.90" y1="577.20" x2="1011.10" y2="577.20" stroke="#2b2b2b" stroke-width="2.2"/>
<line x1="108.90" y1="436.03" x2="119.70" y2="436.03" stroke="#2b2b2b" stroke-width="2.2"/>
<line x1="1021.90" y1="436.03" x2="1011.10" y2="436.03" stroke="#2b2b2b" stroke-width="2.2"/>
<line x1="108.90" y1="294.85" x2="119.70" y2="294.85" stroke="#2b2b2b" stroke-width="2.2"/>
<line x1="1021.90" y1="294.85" x2="1011.10" y2="294.85" stroke="#2b2b2b" stroke-width="2.2"/>
<line x1="108.90" y1="153.68" x2="119.70" y2="153.68" stroke="#2b2b2b" stroke-width="2.2"/>
<line x1="1021.90" y1="153.68" x2="1011.10" y2="153.68" stroke="#2b2b2b" stroke-width="2.2"/>
<line x1="108.90" y1="12.50" x2="119.70" y2="12.50" stroke="#2b2b2b" stroke-width="2.2"/>
<line x1="1021.90" y1="12.50" x2="1011.10" y2="12.50" stroke="#2b2b2b" stroke-width="2.2"/>
<g font-family="Liberation Sans, sans-serif" font-size="34.6" fill="#2b2b2b"><text x="108.90" y="620" text-anchor="middle">0</text>
<text x="291.50" y="620" text-anchor="middle">0.2</text>
<text x="474.10" y="620" text-anchor="middle">0.4</text>
<text x="656.70" y="620" text-anchor="middle">0.6</text>
<text x="839.30" y="620" text-anchor="middle">0.8</text>
<text x="1021.90" y="620" text-anchor="middle">1</text>
<text x="98" y="589.20" text-anchor="end">0</text>
<text x="98" y="448.03" text-anchor="end">50</text>
<text x="98" y="306.85" text-anchor="end">100</text>
<text x="98" y="165.68" text-anchor="end">150</text>
<text x="98" y="24.50" text-anchor="end">200</text></g>
<text x="565" y="665" text-anchor="middle" font-family="Liberation Sans, sans-serif" font-size="37.8" fill="#2b2b2b">Total voltage, V</text>
<text transform="translate(27.5,293.5) rotate(-90)" x="0" y="0" text-anchor="middle" font-family="Liberation Sans, sans-serif" font-size="37.4" fill="#2b2b2b">Maximum temperature, K</text>
<rect x="476.5" y="405.5" width="527.5" height="153.0" fill="#fff" stroke="#2b2b2b" stroke-width="2.2"/>
<line x1="476.5" y1="445.5" x2="1004" y2="445.5" stroke="#2b2b2b" stroke-width="2.2"/>
<g font-family="Liberation Sans, sans-serif" font-size="30.5" font-weight="bold" fill="#000"><text x="539.4" y="436.8">ASTRA</text><text x="729.8" y="436.8">/</text><text x="823" y="436.8">BISCCO</text></g>
<line x1="483" y1="467" x2="546.5" y2="467" stroke="#0072BD" stroke-width="4"/>
<line x1="747" y1="467" x2="763.3" y2="467" stroke="#0072BD" stroke-width="4"/>
<line x1="780.3" y1="467" x2="797.8" y2="467" stroke="#0072BD" stroke-width="4"/>
<text x="551.7" y="477.9" font-family="Liberation Sans, sans-serif" font-size="31.2" fill="#000">10.9 T, 9 kA</text>
<text x="815" y="477.9" font-family="Liberation Sans, sans-serif" font-size="31.2" fill="#000">6 T, 12 kA</text>
<line x1="483" y1="501.7" x2="546.5" y2="501.7" stroke="#D95319" stroke-width="4"/>
<line x1="747" y1="501.7" x2="763.3" y2="501.7" stroke="#D95319" stroke-width="4"/>
<line x1="780.3" y1="501.7" x2="797.8" y2="501.7" stroke="#D95319" stroke-width="4"/>
<text x="551.7" y="514.2" font-family="Liberation Sans, sans-serif" font-size="31.2" fill="#000">10.9 T, 12 kA</text>
<text x="815" y="514.2" font-family="Liberation Sans, sans-serif" font-size="31.2" fill="#000">9 T, 12 kA</text>
<line x1="483" y1="538" x2="546.5" y2="538" stroke="#EDB120" stroke-width="4"/>
<line x1="747" y1="538" x2="763.3" y2="538" stroke="#EDB120" stroke-width="4"/>
<line x1="780.3" y1="538" x2="797.8" y2="538" stroke="#EDB120" stroke-width="4"/>
<text x="551.7" y="550.4" font-family="Liberation Sans, sans-serif" font-size="31.2" fill="#000">10.9 T, 15 kA</text>
<text x="815" y="550.4" font-family="Liberation Sans, sans-serif" font-size="31.2" fill="#000">10.9 T, 12 kA</text></svg>
</body></html>
